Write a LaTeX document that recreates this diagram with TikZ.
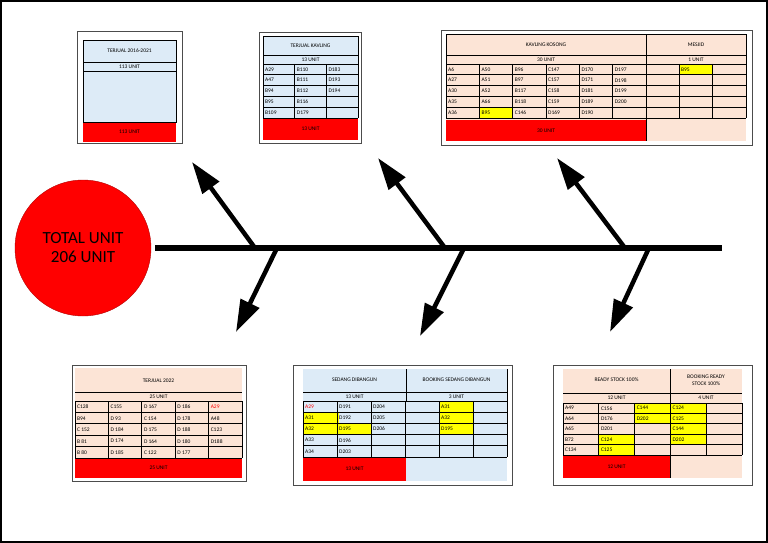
\documentclass[tikz,border=0pt]{standalone}
\usepackage{fontspec}
\setmainfont{Carlito}
\usetikzlibrary{arrows.meta}
\definecolor{peach}{RGB}{252,228,214}
\definecolor{lblue}{RGB}{221,235,247}
\definecolor{yel}{RGB}{255,255,0}
\tikzset{
 frame/.style={draw=black!70,fill=white,line width=1pt},
 g/.style={draw=black,line width=0.8pt},
 t/.style={font=\fontsize{5.5}{6}\selectfont,inner sep=0pt},
 c/.style={font=\fontsize{5.5}{6}\selectfont,inner sep=0pt,anchor=west},
 bone/.style={line width=4.5pt,-{Triangle[length=32pt,width=20pt]}},
}
% grid: x0 y0 ncols cw nrows rh
\newcommand\mygrid[6]{\foreach \ii in {0,...,#3}{\draw[g] ({#1+\ii*#4},#2)--({#1+\ii*#4},{#2+#5*#6});}
 \foreach \jj in {0,...,#5}{\draw[g] (#1,{#2+\jj*#6})--({#1+#3*#4},{#2+\jj*#6});}}
% row text: x0 cw y list
\newcommand\myrow[4]{\foreach \tt [count=\kk from 0] in {#4}{\node[c] at ({#1+\kk*#2+2},#3) {\tt};}}
\begin{document}
\begin{tikzpicture}[x=1pt,y=-1pt]
\draw[black,line width=1.5pt,fill=white] (1,1) rectangle (767,542);
\useasboundingbox (0,0) rectangle (768,543);
% fishbone
\draw[line width=6pt] (155,248) -- (722,248);
\node[circle,fill=red,draw=red!70!black,minimum size=136pt,inner sep=0pt,align=center,font=\fontsize{17}{19}\selectfont] (tot) at (83,248) {TOTAL UNIT\\206 UNIT};
\coordinate (u1) at (255,248); \coordinate (u1e) at (192,162);
\coordinate (u2) at (445,248); \coordinate (u2e) at (378,158);
\coordinate (u3) at (625,248); \coordinate (u3e) at (557,158);
\coordinate (d1) at (276,250); \coordinate (d1e) at (236,332);
\coordinate (d2) at (463,250); \coordinate (d2e) at (420,336);
\coordinate (d3) at (648,250); \coordinate (d3e) at (610,332);
\foreach \a in {u1,u2,u3,d1,d2,d3}{\draw[bone] (\a) -- (\a e);}
% Box 1
\draw[frame] (77,32) rectangle (182,143);
\fill[lblue] (83,40) rectangle (176,122);
\fill[red] (83,122) rectangle (176,142);
\draw[g] (83,40) rectangle (176,122); \draw[g] (83,62)--(176,62); \draw[g] (83,71)--(176,71);
\node[t] at (129.5,51) {TERJUAL 2016-2021};
\node[t] at (129.5,66.5) {113 UNIT};
\node[t] at (129.5,132) {113 UNIT};
% Box 2
\draw[frame] (259,33) rectangle (361,143);
\fill[lblue] (263,36) rectangle (358,118);
\fill[red] (263,118) rectangle (358,140);
\draw[g] (263,36) rectangle (358,64); \draw[g] (263,55)--(358,55);
\mygrid{263}{64}{3}{31.67}{5}{10.8}
\node[t] at (310.5,45.5) {TERJUAL KAVLING};
\node[t] at (310.5,59.5) {13 UNIT};
\myrow{263}{31.67}{69.4}{A29,B110,D183}
\myrow{263}{31.67}{80.2}{A47,B111,D193}
\myrow{263}{31.67}{91}{B94,B112,D194}
\myrow{263}{31.67}{101.8}{B95,B116}
\myrow{263}{31.67}{112.6}{B109,D179}
\node[t] at (310.5,129) {13 UNIT};
% Box 3
\draw[frame] (441,31) rectangle (752,145);
\fill[peach] (446,34) rectangle (746,141);
\fill[yel] (479,108.2) rectangle (512,119); \fill[yel] (679,64) rectangle (713,74.8);
\fill[red] (446,120) rectangle (646,141);
\draw[g] (446,34) rectangle (746,64); \draw[g] (446,55)--(746,55); \draw[g] (646,34)--(646,64);
\mygrid{446}{64}{9}{33.33}{5}{10.8}
\draw[g] (646,119)--(646,141);
\node[t] at (546,45) {KAVLING KOSONG};
\node[t] at (696,45) {MESJID};
\node[t] at (546,59.5) {30 UNIT};
\node[t] at (696,59.5) {1 UNIT};
\myrow{446}{33.33}{69.4}{A6,A50,B96,C147,D170,D197}
\myrow{446}{33.33}{80.2}{A27,A51,B97,C157,D171,D198}
\myrow{446}{33.33}{91}{A30,A52,B117,C158,D181,D199}
\myrow{446}{33.33}{101.8}{A35,A66,B118,C159,D189,D200}
\myrow{446}{33.33}{112.6}{A36,B95,C146,D169,D190}
\node[c] at (681,69.4) {B95};
\node[t] at (546,130.5) {30 UNIT};
% Box 4
\draw[frame] (72,365) rectangle (246,481);
\fill[peach] (75,368) rectangle (242,478);
\fill[red] (75,458) rectangle (242,478);
\draw[g] (75,392)--(242,392); \draw[g] (75,401)--(242,401);
\mygrid{75}{401}{5}{33.4}{5}{11.4}
\node[t] at (158.5,381) {TERJUAL 2022};
\node[t] at (158.5,396.5) {25 UNIT};
\myrow{75}{33.4}{407}{C128,C155,D 167,D 186}
\node[c,text=red] at (210.6,407) {A29};
\myrow{75}{33.4}{418.4}{B94,D 93,C 154,D 178,A48}
\myrow{75}{33.4}{429.8}{C 152,D 184,D 175,D 188,C123}
\myrow{75}{33.4}{441.2}{B 81,D 174,D 164,D 180,D188}
\myrow{75}{33.4}{452.6}{B 80,D 185,C 122,D 177}
\node[t] at (158.5,468) {25 UNIT};
% Box 5
\draw[frame] (293,365) rectangle (512,485);
\fill[lblue] (303,369) rectangle (507,481);
\fill[yel] (303,412.2) rectangle (339,434.6); \fill[yel] (339,423.4) rectangle (372,434.6);
\fill[yel] (440,401) rectangle (474,434.6);
\fill[red] (303,457) rectangle (406,481);
\draw[g] (303,392)--(507,392); \draw[g] (303,401)--(507,401);
\draw[g] (406,369)--(406,401); \draw[g] (507,369)--(507,401);
\mygrid{303}{401}{6}{34}{5}{11.2}
\node[t] at (354.5,380) {SEDANG DIBANGUN};
\node[t] at (456.5,380) {BOOKING SEDANG DIBANGUN};
\node[t] at (354.5,396.5) {13 UNIT};
\node[t] at (456.5,396.5) {3 UNIT};
\node[c,text=red] at (305,406.6) {A29};
\myrow{337}{34}{406.6}{D191,D204,,A31}
\myrow{303}{34}{417.8}{A31,D192,D205,,A32}
\myrow{303}{34}{429}{A32,D195,D206,,D195}
\myrow{303}{34}{440.2}{A33,D196}
\myrow{303}{34}{451.4}{A34,D203}
\node[t] at (354.5,469) {13 UNIT};
% Box 6
\draw[frame] (553,365) rectangle (752,485);
\fill[peach] (563,369) rectangle (742,478);
\fill[yel] (634,403) rectangle (670,424); \fill[yel] (599,434.5) rectangle (634,455);
\fill[yel] (670,403) rectangle (706,445);
\fill[red] (563,455) rectangle (670,478);
\draw[g] (563,393)--(742,393); \draw[g] (563,403)--(742,403);
\draw[g] (670,369)--(670,403);
\mygrid{563}{403}{5}{35.8}{5}{10.4}
\draw[g] (670,455)--(670,478);
\node[t] at (616.5,380) {READY STOCK 100\%};
\node[t,align=center] at (706,380) {BOOKING READY\\[1pt]STOCK 100\%};
\node[t] at (616.5,398) {12 UNIT};
\node[t] at (706,398) {4 UNIT};
\myrow{563}{35.8}{408.2}{A49,C156,C144,C124}
\myrow{563}{35.8}{418.6}{A64,D176,D202,C125}
\myrow{563}{35.8}{429}{A65,D201,,C144}
\myrow{563}{35.8}{439.4}{B72,C124,,D202}
\myrow{563}{35.8}{449.8}{C134,C125}
\node[t] at (616.5,466.5) {12 UNIT};
\end{tikzpicture}
\end{document}
